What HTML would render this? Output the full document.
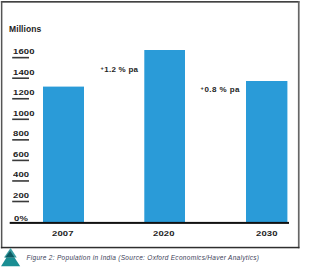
<!DOCTYPE html>
<html><head><meta charset="utf-8">
<style>
html,body{margin:0;padding:0;width:300px;height:271px;overflow:hidden;background:#fff;}
body{position:relative;font-family:"Liberation Sans",sans-serif;}
.t{position:absolute;white-space:nowrap;font-weight:bold;color:#1e1e24;line-height:1;}
.yl{font-size:7.3px;letter-spacing:0.1px;transform:scaleX(1.3);transform-origin:0 0;}
.pl{font-size:5.5px;position:relative;top:-1.9px;margin-right:0.3px;}
.cap{position:absolute;left:26.5px;top:254.5px;font-size:6.5px;letter-spacing:0.3px;font-style:italic;color:#3c4057;white-space:nowrap;line-height:1;}
</style></head><body>
<div class="t" style="left:9px;top:24.7px;font-size:8.5px;letter-spacing:0.1px;">Millions</div>

<div class="t yl" style="left:13.2px;top:47.7px;">1600</div>
<div class="t yl" style="left:13.2px;top:68.7px;">1400</div>
<div class="t yl" style="left:13.2px;top:89.2px;">1200</div>
<div class="t yl" style="left:13.2px;top:109.7px;">1000</div>
<div class="t yl" style="left:13.2px;top:130.2px;">800</div>
<div class="t yl" style="left:13.2px;top:150.7px;">600</div>
<div class="t yl" style="left:13.2px;top:171.2px;">400</div>
<div class="t yl" style="left:13.2px;top:191.7px;">200</div>
<div class="t yl" style="left:13.7px;top:214.7px;">0%</div>


<svg style="position:absolute;left:0;top:0;" width="300" height="271" viewBox="0 0 300 271" shape-rendering="geometricPrecision">
<rect x="0.9" y="1.1" width="298.5" height="1.5" fill="#2e2e2e"/>
<rect x="0.9" y="1.1" width="1.5" height="247.2" fill="#555"/>
<rect x="297.9" y="1.1" width="1.7" height="247.2" fill="#666"/>
<rect x="0.9" y="246.8" width="298.5" height="1.5" fill="#2e2e2e"/>
<rect x="12.2" y="56.85" width="16.8" height="1.6" fill="#3a3a3a"/><rect x="12.2" y="77.40" width="16.8" height="1.6" fill="#3a3a3a"/><rect x="12.2" y="97.95" width="16.8" height="1.6" fill="#3a3a3a"/><rect x="12.2" y="118.50" width="16.8" height="1.6" fill="#3a3a3a"/><rect x="12.2" y="139.05" width="16.8" height="1.6" fill="#3a3a3a"/><rect x="12.2" y="159.60" width="16.8" height="1.6" fill="#3a3a3a"/><rect x="12.2" y="180.15" width="16.8" height="1.6" fill="#3a3a3a"/><rect x="12.2" y="200.70" width="16.8" height="1.6" fill="#3a3a3a"/>
<rect x="43" y="86.6" width="41" height="136" fill="#2a9bd8"/>
<rect x="144.3" y="50" width="40.7" height="172.6" fill="#2a9bd8"/>
<rect x="246" y="81" width="41.4" height="141.6" fill="#2a9bd8"/>
<rect x="9.7" y="221.9" width="279.3" height="2" fill="#111"/>
</svg>
<div class="t" style="left:100.5px;top:66px;font-size:8px;letter-spacing:0.25px;"><span class="pl">+</span>1.2 % pa</div>
<div class="t" style="left:200.5px;top:86px;font-size:8px;letter-spacing:0.42px;"><span class="pl">+</span>0.8 % pa</div>

<div class="t yl" style="left:51.7px;top:230.4px;">2007</div>
<div class="t yl" style="left:152.7px;top:230.4px;">2020</div>
<div class="t yl" style="left:255.7px;top:230.4px;">2030</div>

<svg style="position:absolute;left:0;top:247px;" width="22" height="21" viewBox="0 0 22 21">
<polygon points="1,19.3 20.2,19.3 14.5,10.4 6.5,10.4" fill="#1a8e93"/>
<polygon points="10.6,1 16.8,10.4 4,10.4" fill="#3b9ea3"/>
<polygon points="10.1,4 14.6,10.4 5.3,10.4" fill="#0d5c63"/>
</svg>
<div class="cap">Figure 2: Population in India (Source: Oxford Economics/Haver Analytics)</div>
</body></html>
